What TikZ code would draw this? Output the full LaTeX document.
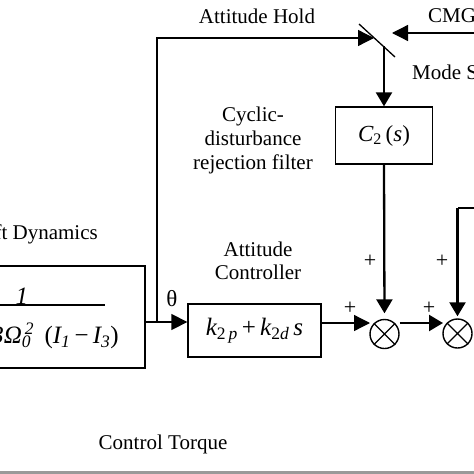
\documentclass[tikz,border=0pt]{standalone}
\usepackage{fontspec}
\setmainfont{Liberation Serif}
\usetikzlibrary{arrows.meta}
\begin{document}
\begin{tikzpicture}[x=1pt,y=-1pt,
  thinln/.style={line width=1.3pt},
  thickln/.style={line width=2.3pt},
  bigtip/.style={-{Triangle[length=16pt,width=16pt]}},
  midtip/.style={-{Triangle[length=14pt,width=16pt]}},
  lbl/.style={inner sep=0pt,font=\fontsize{21}{24}\selectfont},
  plus/.style={inner sep=0pt,font=\fontsize{22}{22}\selectfont},
  blk/.style={draw,line width=1.3pt,inner sep=0pt},
  sumnode/.style={draw,circle,line width=1.4pt,minimum size=29pt,inner sep=0pt}
]
\useasboundingbox (0,0) rectangle (474,474);
\clip (0,0) rectangle (474,474);

% blocks
\node[blk,minimum width=225pt,minimum height=102pt] (dyn) at (32.5,317) {};
\node[blk,minimum width=97pt,minimum height=57pt,font=\fontsize{23}{24}\selectfont] (c2) at (384,135.5)
  {{\itshape C}\textsubscript{2}\,({\itshape s})};
\node[blk,minimum width=133pt,minimum height=53pt,font=\fontsize{25}{26}\selectfont] (k) at (254.5,330.5)
  {{\itshape k}\textsubscript{2\,\itshape p}\,+\,{\itshape k}\textsubscript{2\itshape d}\,{\itshape s}};
\node[sumnode] (sum1) at (384.5,334) {};
\node[sumnode] (sum2) at (457.5,333.5) {};
\draw[line width=1.4pt] (sum1.north west) -- (sum1.south east) (sum1.north east) -- (sum1.south west);
\draw[line width=1.4pt] (sum2.north west) -- (sum2.south east) (sum2.north east) -- (sum2.south west);

% fraction inside dynamics block
\coordinate (fl) at (-80,305);
\coordinate (fr) at (105,305);
\draw[thinln] (fl) -- (fr);
\node[inner sep=0pt,font=\fontsize{25}{26}\selectfont\itshape] (num) at (22,296) {1};
\node[inner sep=0pt,anchor=east,font=\fontsize{25}{26}\selectfont] (den) at (119,336)
  {{\itshape 3Ω}\rlap{\textsubscript{\itshape 0}}\textsuperscript{\itshape \,2}\ \,({\itshape I}\textsubscript{\itshape 1}\,−\,{\itshape I}\textsubscript{\itshape 3})};

% switch
\coordinate (swa) at (359,24);
\coordinate (swb) at (395,57);
\draw[thinln] (swa) -- (swb);
\coordinate (swin) at (374,38);
\coordinate (cmgin) at (392,33);
\coordinate (cmgfar) at (480,33);
\draw[thinln,bigtip] (cmgfar) -- (cmgin);
\coordinate (swout) at (384,46);
\draw[thickln,midtip] (swout) -- (c2.north);

% theta line and feedback
\coordinate (th) at (157,322);
\draw[thinln,bigtip] (dyn.east |- th) -- (k.west |- th);
\draw[thinln,bigtip] (th) |- (swin);

% to summers
\draw[thickln,midtip,shorten >=5.5pt] (c2.south) -- (sum1.north);
\coordinate (a1) at (370,323);
\draw[thinln,bigtip] (k.east |- a1) -- (a1);
\coordinate (a2) at (443,323);
\draw[thickln,midtip] (sum1.east |- a2) -- (a2);
\coordinate (r2) at (457.5,208);
\coordinate (r2far) at (480,208);
\draw[thinln] (r2far) -- (r2);
\draw[thickln,midtip,shorten >=2pt] (r2) -- (sum2.north);

% labels
\node[lbl] (hold) at (257,16) {Attitude Hold};
\node[lbl,anchor=west] (cmg) at (428,16) {CMG};
\node[lbl,anchor=west] (mode) at (412,72) {Mode Switch};
\node[lbl,align=center] (cyc) at (253,140) {Cyclic-\\disturbance\\rejection filter};
\node[lbl,align=center,font=\fontsize{21}{23}\selectfont] (ctl) at (258,261) {Attitude\\Controller};
\node[lbl,anchor=east] (sd) at (98,234) {Spacecraft Dynamics};
\node[lbl,font=\fontsize{23}{24}\selectfont] (theta) at (172,299) {θ};
\node[lbl] (ct) at (163,444) {Control Torque};
\node[plus] (p1) at (370,261) {+};
\node[plus] (p2) at (442,261) {+};
\node[plus] (p3) at (350,308) {+};
\node[plus] (p4) at (429,308) {+};

% bottom rule
\coordinate (bl) at (0,472.5);
\coordinate (br) at (474,472.5);
\draw[line width=3pt,black!40] (bl) -- (br);
\end{tikzpicture}
\end{document}
